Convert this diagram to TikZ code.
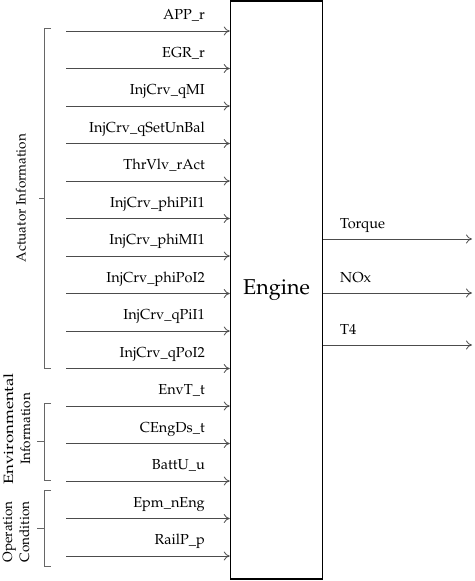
\documentclass[tikz,border=0pt]{standalone}
\usepackage[T1]{fontenc}
\usepackage{mathpazo}
\usetikzlibrary{positioning, arrows.meta}
\tikzset{
>={To[length=6pt, width=9pt]}, % open arrow heads
sig/.style={draw=black!70, line width=0.8pt}, % signal lines
sigtext/.style={font=\fontsize{14.5}{15}\selectfont, inner sep=0pt}, % signal names
brace/.style={draw=black!60, line width=0.7pt}, % group brackets
grouptext/.style={font=\fontsize{13.5}{17}\selectfont, rotate=90, align=center, inner sep=0pt},
}

\begin{document}
\begin{tikzpicture}[x=1pt, y=-1pt]
\useasboundingbox (0,0) rectangle (474,581);
\def\step{37.5}
\node[draw, line width=1.5pt, minimum width=92pt, minimum height=578pt, inner sep=0pt,
      font=\fontsize{21.5}{24}\selectfont] (engine) at (276.5,290) {Engine};

% inputs
\foreach \name [count=\i] in {APP\_r, EGR\_r, InjCrv\_qMI, InjCrv\_qSetUnBal, ThrVlv\_rAct,
  InjCrv\_phiPiI1, InjCrv\_phiMI1, InjCrv\_phiPoI2, InjCrv\_qPiI1, InjCrv\_qPoI2,
  EnvT\_t, CEngDs\_t, BattU\_u, Epm\_nEng, RailP\_p}
{
  \pgfmathsetmacro\yy{31+\step*(\i-1)}
  \coordinate (in\i) at (66,\yy);
  \node[sigtext, anchor=base east] (lab\i) at (205,\yy-11.5) {\name};
  \path[->] (in\i) edge [sig] (in\i -| engine.west);
}

% outputs
\foreach \name/\yy [count=\i] in {Torque/239, NOx/293, T4/345}
{
  \coordinate (out\i) at (472,\yy);
  \node[sigtext, anchor=base west] (olab\i) at (340,\yy-11) {\name};
  \path[->] (out\i -| engine.east) edge [sig] (out\i);
}

% groups
\draw[brace] (51,28) -- (44,28) -- (44,368) -- (51,368);
\draw[brace] (44,198) -- (39,198);
\node[grouptext] (act) at (21,198) {Actuator Information};

\draw[brace] (51,403) -- (44,403) -- (44,480) -- (51,480);
\draw[brace] (44,441) -- (37,441);
\node[grouptext] (env) at (17,429) {\scalebox{1.25}[1]{Environmental}\\Information};

\draw[brace] (51,490) -- (44,490) -- (44,566) -- (51,566);
\draw[brace] (44,528) -- (37,528);
\node[grouptext] (op) at (16,532) {Operation\\Condition};
\end{tikzpicture}
\end{document}
